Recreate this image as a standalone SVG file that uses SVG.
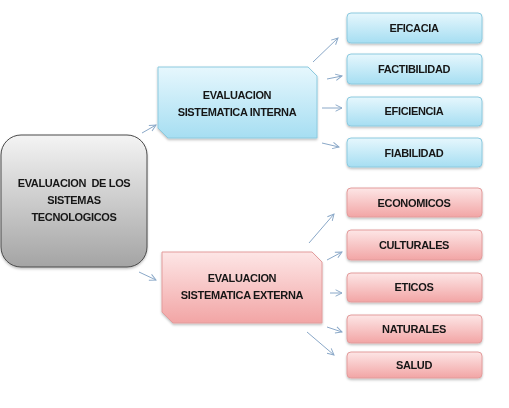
<svg xmlns="http://www.w3.org/2000/svg" width="509" height="408" viewBox="0 0 509 408">
<style>
text{font-family:"Liberation Sans",Arial,sans-serif;font-weight:bold;font-size:11px;letter-spacing:-0.35px;fill:#161616;text-anchor:middle}
.blue{fill:url(#gBlue);stroke:#8ccadf;stroke-width:1}
.red{fill:url(#gRed);stroke:#e39c9c;stroke-width:1}
.gray{fill:url(#gGray);stroke:#4a4a4a;stroke-width:1}
.conn line{stroke:#8aa8c8;stroke-width:1;marker-end:url(#arr)}
</style>
<defs>
<linearGradient id="gBlue" x1="0" y1="0" x2="0" y2="1"><stop offset="0" stop-color="#e6f7fd"/><stop offset="1" stop-color="#a6def2"/></linearGradient>
<linearGradient id="gRed" x1="0" y1="0" x2="0" y2="1"><stop offset="0" stop-color="#fde6e6"/><stop offset="1" stop-color="#f2a5a5"/></linearGradient>
<linearGradient id="gGray" x1="0" y1="0" x2="0" y2="1"><stop offset="0" stop-color="#f4f4f4"/><stop offset="1" stop-color="#a4a4a4"/></linearGradient>
<filter id="sh" x="-10%" y="-10%" width="120%" height="130%"><feDropShadow dx="0" dy="1.5" stdDeviation="1" flood-color="#000" flood-opacity="0.25"/></filter>
<marker id="arr" viewBox="0 0 10 10" refX="9" refY="5" markerWidth="8" markerHeight="8" orient="auto" markerUnits="userSpaceOnUse"><path d="M1,1 L9,5 L1,9" fill="none" stroke="#8aa8c8" stroke-width="1.2"/></marker>
</defs>
<g id="connectors" class="conn">
<line x1="142" y1="133" x2="156" y2="125"/>
<line x1="139" y1="272" x2="156" y2="280"/>
<line x1="313" y1="62" x2="338" y2="38"/>
<line x1="327" y1="79" x2="342" y2="76"/>
<line x1="322" y1="108" x2="342" y2="108"/>
<line x1="322" y1="143" x2="339" y2="147"/>
<line x1="309" y1="243" x2="334" y2="214"/>
<line x1="327" y1="260" x2="342" y2="252"/>
<line x1="330" y1="293" x2="342" y2="293"/>
<line x1="327" y1="327" x2="342" y2="332"/>
<line x1="307" y1="332" x2="334" y2="355"/>
</g>
<g id="root" filter="url(#sh)">
<rect class="gray" x="1" y="135" width="146" height="132" rx="20" ry="20"/>
<text x="74" y="187" style="white-space:pre" xml:space="preserve">EVALUACION  DE LOS</text>
<text x="74" y="204">SISTEMAS</text>
<text x="74" y="221">TECNOLOGICOS</text>
</g>
<g id="interna" filter="url(#sh)">
<path class="blue" d="M158,67 L308,67 L317,76 L317,138 L168,138 L158,128 Z"/>
<text x="237" y="99">EVALUACION</text>
<text x="237" y="116">SISTEMATICA INTERNA</text>
</g>
<g id="externa" filter="url(#sh)">
<path class="red" d="M162,252 L312,252 L322,262 L322,323 L173,323 L162,312 Z"/>
<text x="242" y="282">EVALUACION</text>
<text x="242" y="299">SISTEMATICA EXTERNA</text>
</g>
<g id="eficacia" filter="url(#sh)"><rect class="blue" x="347" y="13" width="135" height="30" rx="4"/><text x="414" y="31.5">EFICACIA</text></g>
<g id="factibilidad" filter="url(#sh)"><rect class="blue" x="347" y="54" width="135" height="30" rx="4"/><text x="414" y="72.5">FACTIBILIDAD</text></g>
<g id="eficiencia" filter="url(#sh)"><rect class="blue" x="347" y="97" width="135" height="29" rx="4"/><text x="414" y="114.5">EFICIENCIA</text></g>
<g id="fiabilidad" filter="url(#sh)"><rect class="blue" x="347" y="138" width="135" height="29" rx="4"/><text x="414" y="156.5">FIABILIDAD</text></g>
<g id="economicos" filter="url(#sh)"><rect class="red" x="347" y="188" width="135" height="29" rx="4"/><text x="414" y="206.5">ECONOMICOS</text></g>
<g id="culturales" filter="url(#sh)"><rect class="red" x="347" y="230" width="135" height="30" rx="4"/><text x="414" y="248.5">CULTURALES</text></g>
<g id="eticos" filter="url(#sh)"><rect class="red" x="347" y="273" width="135" height="29" rx="4"/><text x="414" y="291">ETICOS</text></g>
<g id="naturales" filter="url(#sh)"><rect class="red" x="347" y="315" width="135" height="28" rx="4"/><text x="414" y="332.5">NATURALES</text></g>
<g id="salud" filter="url(#sh)"><rect class="red" x="347" y="352" width="135" height="26" rx="4"/><text x="414" y="368.5">SALUD</text></g>
</svg>
